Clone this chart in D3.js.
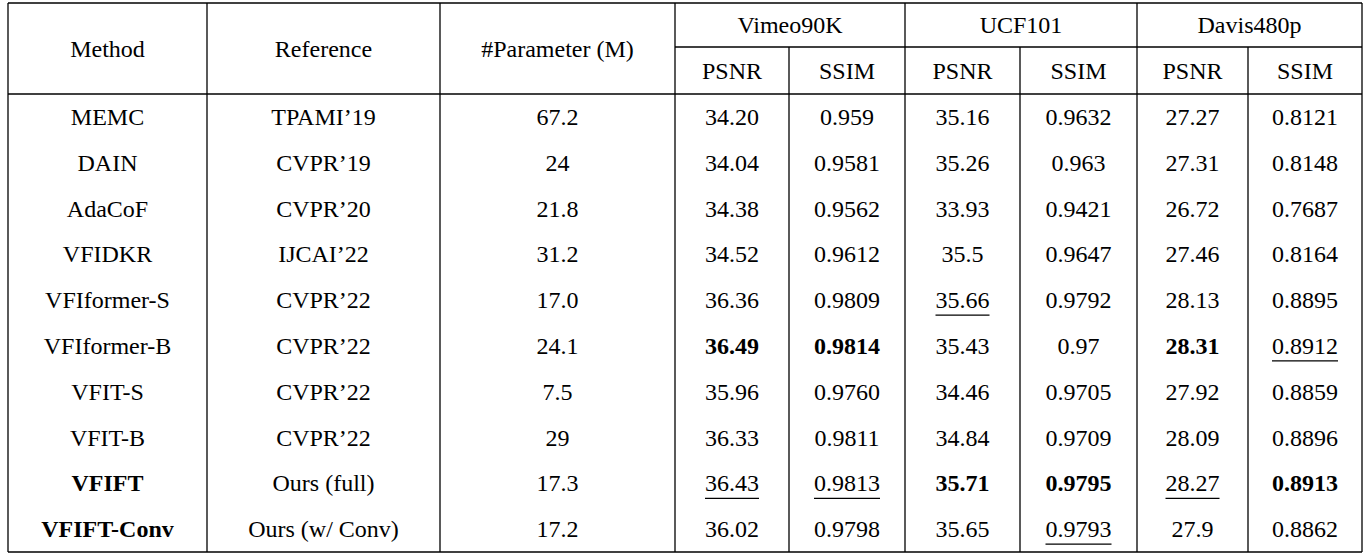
<!DOCTYPE html>
<html>
<head>
<meta charset="utf-8">
<script src="https://cdn.jsdelivr.net/npm/d3@7"></script>
<style>
  body { margin: 0; background: #fff; }
  text { font-family: "Liberation Serif", "DejaVu Serif", serif; font-size: 24px; fill: #000; }
</style>
</head>
<body>
<div id="table"></div>
<script>
// Data
const methods = ["MEMC", "DAIN", "AdaCoF", "VFIDKR", "VFIformer-S", "VFIformer-B", "VFIT-S", "VFIT-B", "VFIFT", "VFIFT-Conv"];
const references = ["TPAMI’19", "CVPR’19", "CVPR’20", "IJCAI’22", "CVPR’22", "CVPR’22", "CVPR’22", "CVPR’22", "Ours (full)", "Ours (w/ Conv)"];
const params = ["67.2", "24", "21.8", "31.2", "17.0", "24.1", "7.5", "29", "17.3", "17.2"];
const vimeoPsnr = ["34.20", "34.04", "34.38", "34.52", "36.36", "36.49", "35.96", "36.33", "36.43", "36.02"];
const vimeoSsim = ["0.959", "0.9581", "0.9562", "0.9612", "0.9809", "0.9814", "0.9760", "0.9811", "0.9813", "0.9798"];
const ucfPsnr = ["35.16", "35.26", "33.93", "35.5", "35.66", "35.43", "34.46", "34.84", "35.71", "35.65"];
const ucfSsim = ["0.9632", "0.963", "0.9421", "0.9647", "0.9792", "0.97", "0.9705", "0.9709", "0.9795", "0.9793"];
const davisPsnr = ["27.27", "27.31", "26.72", "27.46", "28.13", "28.31", "27.92", "28.09", "28.27", "27.9"];
const davisSsim = ["0.8121", "0.8148", "0.7687", "0.8164", "0.8895", "0.8912", "0.8859", "0.8896", "0.8913", "0.8862"];
const groups = ["Vimeo90K", "UCF101", "Davis480p"];
const subHeaders = ["PSNR", "SSIM"];
// formatting marks: "b" = best (bold), "u" = second (underline); key "row,col"
const marks = {
  "8,0": "b", "9,0": "b",
  "5,3": "b", "5,4": "b", "5,7": "b", "8,5": "b", "8,6": "b", "8,8": "b",
  "4,5": "u", "5,8": "u", "8,3": "u", "8,4": "u", "8,7": "u", "9,6": "u"
};

const svgWidth = 1370, svgHeight = 557;
const svg = d3.select("#table").append("svg")
  .attr("width", svgWidth).attr("height", svgHeight);

// column edges (layout)
const edges = [8, 207, 440, 675, 789, 905, 1020, 1137, 1248, 1362];
const colX = i => (edges[i] + edges[i + 1]) / 2;
const yTop = 3, yMid = 47, headBottom = 94, yBottom = 552;

const y = d3.scaleBand().domain(d3.range(methods.length)).range([headBottom, yBottom]);

const line = (x1, y1, x2, y2) => svg.append("line")
  .attr("x1", x1).attr("y1", y1).attr("x2", x2).attr("y2", y2)
  .attr("stroke", "#000").attr("stroke-width", 1.3);

// borders
line(edges[0], yTop, edges[9], yTop);
line(edges[3], yMid, edges[9], yMid);
line(edges[0], headBottom, edges[9], headBottom);
line(edges[0], yBottom, edges[9], yBottom);
edges.forEach((x, i) => {
  const isSub = [4, 6, 8].includes(i);
  line(x, isSub ? yMid : yTop, x, yBottom);
});

// headers
const hdr = (x, yy, t) => svg.append("text").attr("x", x).attr("y", yy)
  .attr("text-anchor", "middle").attr("dominant-baseline", "central").text(t);
hdr(colX(0), (yTop + headBottom) / 2, "Method");
hdr(colX(1), (yTop + headBottom) / 2, "Reference");
hdr(colX(2), (yTop + headBottom) / 2, "#Parameter (M)");
groups.forEach((g, i) => {
  hdr((edges[3 + 2 * i] + edges[5 + 2 * i]) / 2, (yTop + yMid) / 2, g);
  subHeaders.forEach((s, j) => hdr(colX(3 + 2 * i + j), (yMid + headBottom) / 2, s));
});

// body
const columns = [methods, references, params, vimeoPsnr, vimeoSsim, ucfPsnr, ucfSsim, davisPsnr, davisSsim];
columns.forEach((col, c) => {
  col.forEach((v, r) => {
    const m = marks[r + "," + c];
    const cy = y(r) + y.bandwidth() / 2;
    const t = svg.append("text").attr("x", colX(c)).attr("y", cy)
      .attr("text-anchor", "middle").attr("dominant-baseline", "central")
      .attr("font-weight", m === "b" ? "bold" : "normal")
      .text(v);
    if (m === "u") {
      const w = t.node().getComputedTextLength();
      line(colX(c) - w / 2, cy + 15, colX(c) + w / 2, cy + 15);
    }
  });
});
</script>
</body>
</html>
